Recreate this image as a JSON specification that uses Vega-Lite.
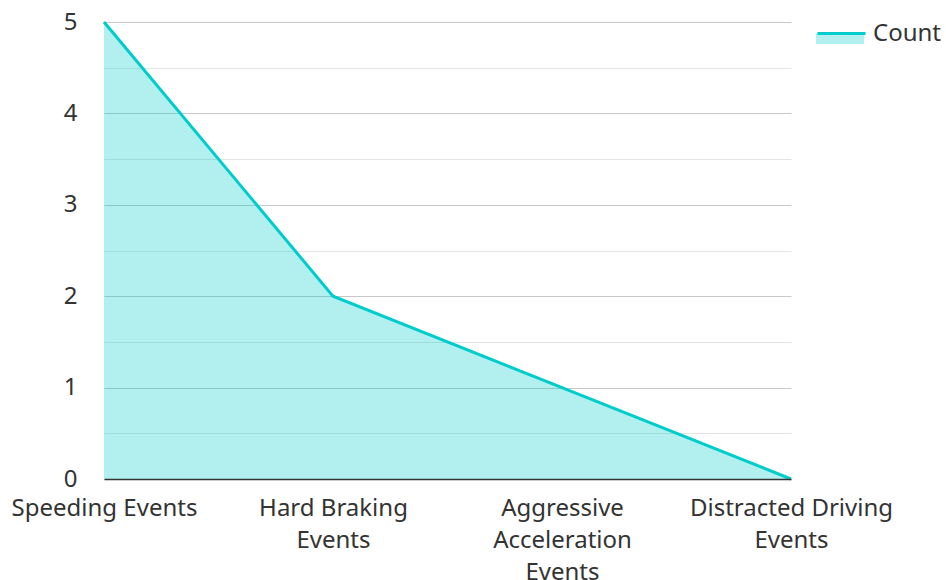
{
  "$schema": "https://vega.github.io/schema/vega-lite/v6.json",
  "width": 687,
  "height": 457,
  "autosize": {"type": "none"},
  "padding": {"left": 104, "top": 22, "right": 155, "bottom": 101},
  "config": {
    "view": {"stroke": null},
    "font": "Noto Sans",
    "axis": {"labelFont": "Noto Sans", "labelColor": "#333333", "labelFontSize": 24}
  },
  "data": {
    "values": [
      {"event": "Speeding Events", "count": 5},
      {"event": "Hard Braking Events", "count": 2},
      {"event": "Aggressive Acceleration Events", "count": 1},
      {"event": "Distracted Driving Events", "count": 0}
    ]
  },
  "encoding": {
    "x": {
      "field": "event",
      "type": "nominal",
      "sort": null,
      "scale": {"type": "point", "padding": 0},
      "axis": {
        "title": null,
        "domain": true,
        "domainColor": "#333333",
        "domainWidth": 1.5,
        "zindex": 1,
        "ticks": false,
        "grid": false,
        "labelAngle": 0,
        "labelPadding": 17,
        "labelLineHeight": 32,
        "labelBaseline": "top",
        "labelLimit": 0,
        "labelExpr": "datum.value == 'Hard Braking Events' ? ['Hard Braking', 'Events'] : datum.value == 'Aggressive Acceleration Events' ? ['Aggressive', 'Acceleration', 'Events'] : datum.value == 'Distracted Driving Events' ? ['Distracted Driving', 'Events'] : datum.value"
      }
    },
    "y": {
      "field": "count",
      "type": "quantitative",
      "scale": {"domain": [0, 5], "nice": false},
      "axis": {
        "title": null,
        "domain": false,
        "ticks": false,
        "values": [0, 0.5, 1, 1.5, 2, 2.5, 3, 3.5, 4, 4.5, 5],
        "labelExpr": "datum.value % 1 == 0 ? format(datum.value, 'd') : ''",
        "labelPadding": 27,
        "gridColor": {"condition": {"test": "datum.value % 1 == 0", "value": "#c8c8c8"}, "value": "#e4e4e4"},
        "gridWidth": 1
      }
    }
  },
  "layer": [
    {
      "mark": {"type": "area"},
      "encoding": {
        "fill": {
          "datum": "Count ",
          "scale": {"domain": ["Count "], "range": ["rgba(0,204,204,0.3)"]},
          "legend": {
            "title": null,
            "orient": "none",
            "legendX": 712,
            "legendY": -14,
            "symbolType": "M-1,0.06H1V0.5H-1Z",
            "symbolSize": 2304,
            "symbolStrokeWidth": 0,
            "labelExpr": "''",
            "labelFontSize": 24,
            "labelOffset": 6
          }
        }
      }
    },
    {
      "mark": {"type": "line", "strokeWidth": 3},
      "encoding": {
        "stroke": {
          "datum": "Count",
          "scale": {"domain": ["Count"], "range": ["#00CCCC"]},
          "legend": {
            "title": null,
            "orient": "none",
            "legendX": 712,
            "legendY": -14,
            "symbolType": "stroke",
            "symbolSize": 2304,
            "symbolStrokeWidth": 3,
            "labelFont": "Noto Sans",
            "labelFontSize": 24,
            "labelColor": "#333333",
            "labelOffset": 6
          }
        }
      }
    }
  ]
}
